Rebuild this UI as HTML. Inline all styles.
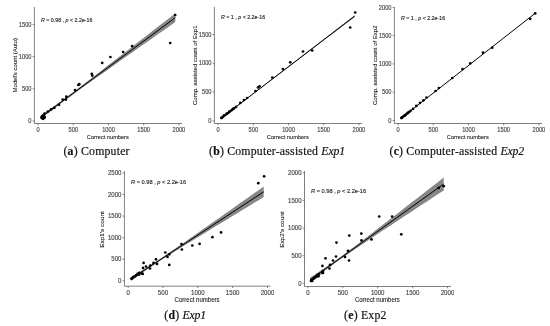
<!DOCTYPE html>
<html><head><meta charset="utf-8"><title>Figure</title>
<style>html,body{margin:0;padding:0;background:#fff}body{width:550px;height:326px;position:relative;overflow:hidden}</style></head>
<body>
<svg width="550" height="326" viewBox="0 0 550 326" style="display:block;position:absolute;left:0;top:0;filter:blur(0.35px)">
<rect width="550" height="326" fill="#fff"/>
<g transform="translate(0,0)">
<polygon fill="#7a7a7a" fill-opacity="0.9" points="41.6,115.07 47.17,111.07 52.74,107.05 58.31,103.0 63.88,98.91 69.45,94.79 75.03,90.63 80.6,86.43 86.17,82.2 91.74,77.95 97.31,73.69 102.88,69.41 108.45,65.11 114.02,60.82 119.59,56.51 125.16,52.2 130.73,47.89 136.3,43.57 141.88,39.25 147.45,34.93 153.02,30.61 158.59,26.28 164.16,21.96 169.73,17.63 175.3,13.3 175.3,22.1 169.73,26.01 164.16,29.93 158.59,33.84 153.02,37.76 147.45,41.68 141.88,45.6 136.3,49.52 130.73,53.45 125.16,57.37 119.59,61.31 114.02,65.24 108.45,69.19 102.88,73.14 97.31,77.1 91.74,81.07 86.17,85.07 80.6,89.08 75.03,93.12 69.45,97.2 63.88,101.32 58.31,105.47 52.74,109.66 47.17,113.88 41.6,118.13"/>
<line x1="41.6" y1="116.6" x2="175.3" y2="17.7" stroke="#000" stroke-width="1.0"/>
<g fill="#000"><circle cx="42.0" cy="116.4" r="1.35"/><circle cx="43.2" cy="118.0" r="1.35"/><circle cx="44.0" cy="116.4" r="1.35"/><circle cx="42.0" cy="118.2" r="1.35"/><circle cx="44.4" cy="117.8" r="1.35"/><circle cx="42.8" cy="115.6" r="1.35"/><circle cx="43.1" cy="117.0" r="1.35"/><circle cx="41.6" cy="117.3" r="1.35"/><circle cx="44.7" cy="117.0" r="1.35"/><circle cx="43.2" cy="118.8" r="1.35"/><circle cx="44.6" cy="113.6" r="1.35"/><circle cx="47.9" cy="111.6" r="1.35"/><circle cx="51.1" cy="109.4" r="1.35"/><circle cx="54.3" cy="107.9" r="1.35"/><circle cx="59" cy="104.8" r="1.35"/><circle cx="62.7" cy="99.6" r="1.35"/><circle cx="65.9" cy="99.6" r="1.35"/><circle cx="66.3" cy="96.7" r="1.35"/><circle cx="75" cy="90" r="1.35"/><circle cx="78.3" cy="85" r="1.35"/><circle cx="79.3" cy="84.2" r="1.35"/><circle cx="91.8" cy="73.8" r="1.35"/><circle cx="92.3" cy="75.6" r="1.35"/><circle cx="102.2" cy="62.9" r="1.35"/><circle cx="110.4" cy="57" r="1.35"/><circle cx="123.1" cy="52" r="1.35"/><circle cx="132.2" cy="46.2" r="1.35"/><circle cx="170.2" cy="43" r="1.35"/><circle cx="175.2" cy="15" r="1.35"/></g>
<path d="M34.4 7V123.5H182" fill="none" stroke="#555" stroke-width="0.75"/>
<path d="M38.1 123.5v1.8M73.3 123.5v1.8M108.5 123.5v1.8M143.7 123.5v1.8M178.9 123.5v1.8M34.4 120.9h-1.8M34.4 88.8h-1.8M34.4 56.6h-1.8M34.4 24.5h-1.8" stroke="#555" stroke-width="0.7" fill="none"/>
<g font-family="Liberation Sans, Arial, sans-serif">
<text transform="translate(38.1 131.9) scale(1 1.1)" text-anchor="middle" font-size="5.7" fill="#444" stroke="#444" stroke-width="0.13">0</text>
<text transform="translate(73.3 131.9) scale(1 1.1)" text-anchor="middle" font-size="5.7" fill="#444" stroke="#444" stroke-width="0.13">500</text>
<text transform="translate(108.5 131.9) scale(1 1.1)" text-anchor="middle" font-size="5.7" fill="#444" stroke="#444" stroke-width="0.13">1000</text>
<text transform="translate(143.7 131.9) scale(1 1.1)" text-anchor="middle" font-size="5.7" fill="#444" stroke="#444" stroke-width="0.13">1500</text>
<text transform="translate(178.9 131.9) scale(1 1.1)" text-anchor="middle" font-size="5.7" fill="#444" stroke="#444" stroke-width="0.13">2000</text>
<text transform="translate(31.5 123.0) scale(1 1.1)" text-anchor="end" font-size="5.7" fill="#444" stroke="#444" stroke-width="0.13">0</text>
<text transform="translate(31.5 90.9) scale(1 1.1)" text-anchor="end" font-size="5.7" fill="#444" stroke="#444" stroke-width="0.13">500</text>
<text transform="translate(31.5 58.7) scale(1 1.1)" text-anchor="end" font-size="5.7" fill="#444" stroke="#444" stroke-width="0.13">1000</text>
<text transform="translate(31.5 26.6) scale(1 1.1)" text-anchor="end" font-size="5.7" fill="#444" stroke="#444" stroke-width="0.13">1500</text>
<text transform="translate(107.8 139.3) scale(1 1.1)" text-anchor="middle" font-size="5.65" fill="#222" stroke="#222" stroke-width="0.1">Correct numbers</text>
<text transform="translate(16.7 65.25) rotate(-90) scale(1.06 1)" text-anchor="middle" font-size="5.65" fill="#222" stroke="#222" stroke-width="0.1">Model's count (Auto)</text>
<text transform="translate(41 21.6) scale(1 1.1)" text-anchor="start" font-size="5.3" fill="#222" stroke="#222" stroke-width="0.12"><tspan font-style="italic">R</tspan> = 0.98 , <tspan font-style="italic">p</tspan> &lt; 2.2e-16</text>
</g>
</g>
<g transform="translate(180,0)">
<polygon fill="#7a7a7a" fill-opacity="0.9" points="41.0,117.9 46.57,113.66 52.14,109.42 57.71,105.17 63.28,100.92 68.85,96.66 74.42,92.39 80.0,88.13 85.57,83.85 91.14,79.58 96.71,75.3 102.28,71.01 107.85,66.73 113.42,62.44 118.99,58.15 124.56,53.86 130.13,49.57 135.7,45.27 141.27,40.98 146.85,36.68 152.42,32.39 157.99,28.09 163.56,23.79 169.13,19.5 174.7,15.2 174.7,17.0 169.13,21.22 163.56,25.44 157.99,29.66 152.42,33.88 146.85,38.1 141.27,42.32 135.7,46.54 130.13,50.77 124.56,54.99 118.99,59.22 113.42,63.44 107.85,67.67 102.28,71.9 96.71,76.14 91.14,80.37 85.57,84.61 80.0,88.86 74.42,93.11 68.85,97.36 63.28,101.62 57.71,105.88 52.14,110.15 46.57,114.42 41.0,118.7"/>
<line x1="41" y1="118.3" x2="174.7" y2="16.1" stroke="#000" stroke-width="1.0"/>
<g fill="#000"><circle cx="41.5" cy="117.9" r="1.35"/><circle cx="43" cy="116.8" r="1.35"/><circle cx="44.5" cy="115.6" r="1.35"/><circle cx="46" cy="114.5" r="1.35"/><circle cx="47.5" cy="113.3" r="1.35"/><circle cx="49" cy="112.2" r="1.35"/><circle cx="50.5" cy="111.0" r="1.35"/><circle cx="52" cy="109.9" r="1.35"/><circle cx="54" cy="108.4" r="1.35"/><circle cx="41.6" cy="117.9" r="1.35"/><circle cx="44" cy="115.5" r="1.35"/><circle cx="47" cy="113.5" r="1.35"/><circle cx="49.4" cy="111.5" r="1.35"/><circle cx="53" cy="108.9" r="1.35"/><circle cx="56" cy="106.9" r="1.35"/><circle cx="60.3" cy="102.9" r="1.35"/><circle cx="64" cy="100" r="1.35"/><circle cx="67" cy="98" r="1.35"/><circle cx="75.5" cy="91" r="1.35"/><circle cx="78" cy="87.5" r="1.35"/><circle cx="79.5" cy="86.3" r="1.35"/><circle cx="92.3" cy="77.6" r="1.35"/><circle cx="102.9" cy="69.0" r="1.35"/><circle cx="110.3" cy="62.3" r="1.35"/><circle cx="123" cy="51.5" r="1.35"/><circle cx="132.2" cy="50.5" r="1.35"/><circle cx="170.2" cy="27.5" r="1.35"/><circle cx="175.2" cy="12.5" r="1.35"/></g>
<path d="M34.4 7V123.5H182" fill="none" stroke="#555" stroke-width="0.75"/>
<path d="M38.1 123.5v1.8M73.3 123.5v1.8M108.5 123.5v1.8M143.7 123.5v1.8M178.9 123.5v1.8M34.4 120.9h-1.8M34.4 92.1h-1.8M34.4 63.3h-1.8M34.4 34.5h-1.8" stroke="#555" stroke-width="0.7" fill="none"/>
<g font-family="Liberation Sans, Arial, sans-serif">
<text transform="translate(38.1 131.9) scale(1 1.1)" text-anchor="middle" font-size="5.7" fill="#444" stroke="#444" stroke-width="0.13">0</text>
<text transform="translate(73.3 131.9) scale(1 1.1)" text-anchor="middle" font-size="5.7" fill="#444" stroke="#444" stroke-width="0.13">500</text>
<text transform="translate(108.5 131.9) scale(1 1.1)" text-anchor="middle" font-size="5.7" fill="#444" stroke="#444" stroke-width="0.13">1000</text>
<text transform="translate(143.7 131.9) scale(1 1.1)" text-anchor="middle" font-size="5.7" fill="#444" stroke="#444" stroke-width="0.13">1500</text>
<text transform="translate(178.9 131.9) scale(1 1.1)" text-anchor="middle" font-size="5.7" fill="#444" stroke="#444" stroke-width="0.13">2000</text>
<text transform="translate(31.5 123.0) scale(1 1.1)" text-anchor="end" font-size="5.7" fill="#444" stroke="#444" stroke-width="0.13">0</text>
<text transform="translate(31.5 94.2) scale(1 1.1)" text-anchor="end" font-size="5.7" fill="#444" stroke="#444" stroke-width="0.13">500</text>
<text transform="translate(31.5 65.4) scale(1 1.1)" text-anchor="end" font-size="5.7" fill="#444" stroke="#444" stroke-width="0.13">1000</text>
<text transform="translate(31.5 36.6) scale(1 1.1)" text-anchor="end" font-size="5.7" fill="#444" stroke="#444" stroke-width="0.13">1500</text>
<text transform="translate(107.8 139.3) scale(1 1.1)" text-anchor="middle" font-size="5.65" fill="#222" stroke="#222" stroke-width="0.1">Correct numbers</text>
<text transform="translate(16.7 65.25) rotate(-90) scale(1.06 1)" text-anchor="middle" font-size="5.65" fill="#222" stroke="#222" stroke-width="0.1">Comp. assisted count of Exp1</text>
<text transform="translate(41 19.2) scale(1 1.1)" text-anchor="start" font-size="5.3" fill="#222" stroke="#222" stroke-width="0.12"><tspan font-style="italic">R</tspan> = 1 , <tspan font-style="italic">p</tspan> &lt; 2.2e-16</text>
</g>
</g>
<g transform="translate(360,0)">
<line x1="41" y1="118.3" x2="175.2" y2="13.3" stroke="#000" stroke-width="1.0"/>
<g fill="#000"><circle cx="41.5" cy="117.9" r="1.35"/><circle cx="42.8" cy="116.9" r="1.35"/><circle cx="44.1" cy="115.9" r="1.35"/><circle cx="45.4" cy="114.9" r="1.35"/><circle cx="46.7" cy="113.8" r="1.35"/><circle cx="48" cy="112.8" r="1.35"/><circle cx="49.3" cy="111.8" r="1.35"/><circle cx="50.6" cy="110.8" r="1.35"/><circle cx="41.6" cy="117.9" r="1.35"/><circle cx="45" cy="115.3" r="1.35"/><circle cx="48" cy="112.9" r="1.35"/><circle cx="53" cy="108.9" r="1.35"/><circle cx="56.3" cy="105.9" r="1.35"/><circle cx="60" cy="102.9" r="1.35"/><circle cx="63.5" cy="100.3" r="1.35"/><circle cx="66.5" cy="97.5" r="1.35"/><circle cx="75.5" cy="91" r="1.35"/><circle cx="78.9" cy="88" r="1.35"/><circle cx="92.3" cy="78" r="1.35"/><circle cx="102.5" cy="69.1" r="1.35"/><circle cx="110.3" cy="63.3" r="1.35"/><circle cx="123" cy="52.6" r="1.35"/><circle cx="132.2" cy="47.7" r="1.35"/><circle cx="170.2" cy="18.9" r="1.35"/><circle cx="175.2" cy="13.3" r="1.35"/></g>
<path d="M34.4 7V123.5H182" fill="none" stroke="#555" stroke-width="0.75"/>
<path d="M38.1 123.5v1.8M73.3 123.5v1.8M108.5 123.5v1.8M143.7 123.5v1.8M178.9 123.5v1.8M34.4 120.5h-1.8M34.4 92.2h-1.8M34.4 63.9h-1.8M34.4 35.6h-1.8M34.4 7.6h-1.8" stroke="#555" stroke-width="0.7" fill="none"/>
<g font-family="Liberation Sans, Arial, sans-serif">
<text transform="translate(38.1 131.9) scale(1 1.1)" text-anchor="middle" font-size="5.7" fill="#444" stroke="#444" stroke-width="0.13">0</text>
<text transform="translate(73.3 131.9) scale(1 1.1)" text-anchor="middle" font-size="5.7" fill="#444" stroke="#444" stroke-width="0.13">500</text>
<text transform="translate(108.5 131.9) scale(1 1.1)" text-anchor="middle" font-size="5.7" fill="#444" stroke="#444" stroke-width="0.13">1000</text>
<text transform="translate(143.7 131.9) scale(1 1.1)" text-anchor="middle" font-size="5.7" fill="#444" stroke="#444" stroke-width="0.13">1500</text>
<text transform="translate(178.9 131.9) scale(1 1.1)" text-anchor="middle" font-size="5.7" fill="#444" stroke="#444" stroke-width="0.13">2000</text>
<text transform="translate(31.5 122.6) scale(1 1.1)" text-anchor="end" font-size="5.7" fill="#444" stroke="#444" stroke-width="0.13">0</text>
<text transform="translate(31.5 94.3) scale(1 1.1)" text-anchor="end" font-size="5.7" fill="#444" stroke="#444" stroke-width="0.13">500</text>
<text transform="translate(31.5 66.0) scale(1 1.1)" text-anchor="end" font-size="5.7" fill="#444" stroke="#444" stroke-width="0.13">1000</text>
<text transform="translate(31.5 37.7) scale(1 1.1)" text-anchor="end" font-size="5.7" fill="#444" stroke="#444" stroke-width="0.13">1500</text>
<text transform="translate(31.5 9.7) scale(1 1.1)" text-anchor="end" font-size="5.7" fill="#444" stroke="#444" stroke-width="0.13">2000</text>
<text transform="translate(107.8 139.3) scale(1 1.1)" text-anchor="middle" font-size="5.65" fill="#222" stroke="#222" stroke-width="0.1">Correct numbers</text>
<text transform="translate(16.7 65.25) rotate(-90) scale(1.06 1)" text-anchor="middle" font-size="5.65" fill="#222" stroke="#222" stroke-width="0.1">Comp. assisted count of Exp2</text>
<text transform="translate(41 20.0) scale(1 1.1)" text-anchor="start" font-size="5.3" fill="#222" stroke="#222" stroke-width="0.12"><tspan font-style="italic">R</tspan> = 1 , <tspan font-style="italic">p</tspan> &lt; 2.2e-16</text>
</g>
</g>
<clipPath id="cld"><rect x="0" y="160" width="184.0" height="150"/></clipPath>
<g transform="translate(90,0)" clip-path="url(#cld)">
<polygon fill="#7a7a7a" fill-opacity="0.9" points="41.0,277.08 46.53,273.66 52.06,270.22 57.59,266.75 63.12,263.23 68.65,259.65 74.17,256.01 79.7,252.29 85.23,248.53 90.76,244.73 96.29,240.89 101.82,237.04 107.35,233.18 112.88,229.31 118.41,225.43 123.94,221.55 129.47,217.66 135.0,213.77 140.52,209.88 146.05,205.99 151.58,202.09 157.11,198.2 162.64,194.3 168.17,190.4 173.7,186.5 173.7,197.1 168.17,200.46 162.64,203.82 157.11,207.18 151.58,210.54 146.05,213.9 140.52,217.27 135.0,220.63 129.47,224.0 123.94,227.37 118.41,230.75 112.88,234.13 107.35,237.52 101.82,240.91 96.29,244.32 90.76,247.75 85.23,251.2 79.7,254.7 74.17,258.24 68.65,261.86 63.12,265.54 57.59,269.28 52.06,273.06 46.53,276.88 41.0,280.72"/>
<line x1="41" y1="278.9" x2="173.7" y2="191.8" stroke="#000" stroke-width="1.0"/>
<g fill="#000"><circle cx="41.6" cy="278.5" r="1.35"/><circle cx="43" cy="277.5" r="1.35"/><circle cx="45" cy="276.3" r="1.35"/><circle cx="47.6" cy="273.9" r="1.35"/><circle cx="49.4" cy="272.9" r="1.35"/><circle cx="52" cy="273.5" r="1.35"/><circle cx="53" cy="267.9" r="1.35"/><circle cx="53.6" cy="262.9" r="1.35"/><circle cx="56" cy="266.5" r="1.35"/><circle cx="60" cy="268.5" r="1.35"/><circle cx="60.3" cy="265.5" r="1.35"/><circle cx="63.5" cy="262.9" r="1.35"/><circle cx="66" cy="259.3" r="1.35"/><circle cx="67" cy="263.9" r="1.35"/><circle cx="75.3" cy="252.5" r="1.35"/><circle cx="77.5" cy="256.9" r="1.35"/><circle cx="79.3" cy="254.3" r="1.35"/><circle cx="79.3" cy="264.9" r="1.35"/><circle cx="91.5" cy="244" r="1.35"/><circle cx="91.9" cy="249.5" r="1.35"/><circle cx="102.3" cy="245.5" r="1.35"/><circle cx="109.6" cy="243.8" r="1.35"/><circle cx="122.4" cy="237.2" r="1.35"/><circle cx="131.1" cy="232.4" r="1.35"/><circle cx="41.8" cy="278.9" r="1.35"/><circle cx="43.6" cy="276.8" r="1.35"/><circle cx="48.4" cy="273.9" r="1.35"/><circle cx="49.2" cy="274.6" r="1.35"/><circle cx="52.7" cy="273.9" r="1.35"/><circle cx="46.3" cy="275.2" r="1.35"/><circle cx="168.3" cy="183.2" r="1.35"/><circle cx="174.1" cy="176.3" r="1.35"/></g>
<path d="M34.4 171V286.2H180.5" fill="none" stroke="#555" stroke-width="0.75"/>
<path d="M38.1 286.2v1.8M72.95 286.2v1.8M107.8 286.2v1.8M142.65 286.2v1.8M177.5 286.2v1.8M34.4 280.8h-1.8M34.4 259.2h-1.8M34.4 237.7h-1.8M34.4 216.1h-1.8M34.4 194.5h-1.8M34.4 173.2h-1.8" stroke="#555" stroke-width="0.7" fill="none"/>
<g font-family="Liberation Sans, Arial, sans-serif">
<text transform="translate(38.1 294.6) scale(1 1.1)" text-anchor="middle" font-size="6.1" fill="#444" stroke="#444" stroke-width="0.13">0</text>
<text transform="translate(72.95 294.6) scale(1 1.1)" text-anchor="middle" font-size="6.1" fill="#444" stroke="#444" stroke-width="0.13">500</text>
<text transform="translate(107.8 294.6) scale(1 1.1)" text-anchor="middle" font-size="6.1" fill="#444" stroke="#444" stroke-width="0.13">1000</text>
<text transform="translate(142.65 294.6) scale(1 1.1)" text-anchor="middle" font-size="6.1" fill="#444" stroke="#444" stroke-width="0.13">1500</text>
<text transform="translate(177.5 294.6) scale(1 1.1)" text-anchor="middle" font-size="6.1" fill="#444" stroke="#444" stroke-width="0.13">2000</text>
<text transform="translate(31.5 282.9) scale(1 1.1)" text-anchor="end" font-size="6.1" fill="#444" stroke="#444" stroke-width="0.13">0</text>
<text transform="translate(31.5 261.3) scale(1 1.1)" text-anchor="end" font-size="6.1" fill="#444" stroke="#444" stroke-width="0.13">500</text>
<text transform="translate(31.5 239.8) scale(1 1.1)" text-anchor="end" font-size="6.1" fill="#444" stroke="#444" stroke-width="0.13">1000</text>
<text transform="translate(31.5 218.2) scale(1 1.1)" text-anchor="end" font-size="6.1" fill="#444" stroke="#444" stroke-width="0.13">1500</text>
<text transform="translate(31.5 196.6) scale(1 1.1)" text-anchor="end" font-size="6.1" fill="#444" stroke="#444" stroke-width="0.13">2000</text>
<text transform="translate(31.5 175.3) scale(1 1.1)" text-anchor="end" font-size="6.1" fill="#444" stroke="#444" stroke-width="0.13">2500</text>
<text transform="translate(107.05 302.0) scale(1 1.1)" text-anchor="middle" font-size="6.05" fill="#222" stroke="#222" stroke-width="0.1">Correct numbers</text>
<text transform="translate(14.4 229.5) rotate(-90) scale(1.06 1)" text-anchor="middle" font-size="6.05" fill="#222" stroke="#222" stroke-width="0.1">Exp1's count</text>
<text transform="translate(41 184.3) scale(1 1.1)" text-anchor="start" font-size="5.67" fill="#222" stroke="#222" stroke-width="0.12"><tspan font-style="italic">R</tspan> = 0.98 , <tspan font-style="italic">p</tspan> &lt; 2.2e-16</text>
</g>
</g>
<clipPath id="cle"><rect x="0" y="160" width="184.2" height="150"/></clipPath>
<g transform="translate(270,0)" clip-path="url(#cle)">
<polygon fill="#7a7a7a" fill-opacity="0.9" points="40.0,277.85 45.57,274.11 51.14,270.34 56.71,266.54 62.28,262.67 67.85,258.72 73.42,254.68 79.0,250.56 84.57,246.38 90.14,242.16 95.71,237.9 101.28,233.63 106.85,229.35 112.42,225.05 117.99,220.75 123.56,216.45 129.13,212.14 134.7,207.83 140.27,203.51 145.85,199.2 151.42,194.88 156.99,190.56 162.56,186.24 168.13,181.92 173.7,177.6 173.7,190.4 168.13,194.07 162.56,197.74 156.99,201.41 151.42,205.09 145.85,208.76 140.27,212.44 134.7,216.12 129.13,219.8 123.56,223.48 117.99,227.16 112.42,230.86 106.85,234.55 101.28,238.26 95.71,241.98 90.14,245.72 84.57,249.49 79.0,253.3 73.42,257.17 67.85,261.12 62.28,265.16 56.71,269.29 51.14,273.47 45.57,277.7 40.0,281.95"/>
<line x1="40" y1="279.9" x2="173.7" y2="184" stroke="#000" stroke-width="1.0"/>
<g fill="#000"><circle cx="41" cy="280.9" r="1.35"/><circle cx="42" cy="279.5" r="1.35"/><circle cx="44" cy="278.5" r="1.35"/><circle cx="41.5" cy="279.9" r="1.35"/><circle cx="43" cy="278.9" r="1.35"/><circle cx="42.2" cy="281" r="1.35"/><circle cx="44.5" cy="277.6" r="1.35"/><circle cx="48" cy="275.6" r="1.35"/><circle cx="49" cy="274.2" r="1.35"/><circle cx="53" cy="271" r="1.35"/><circle cx="52.5" cy="273" r="1.35"/><circle cx="45.5" cy="277.2" r="1.35"/><circle cx="46.5" cy="276.4" r="1.35"/><circle cx="47.6" cy="274.9" r="1.35"/><circle cx="48.4" cy="276.3" r="1.35"/><circle cx="52.4" cy="271.9" r="1.35"/><circle cx="53" cy="272.9" r="1.35"/><circle cx="52.4" cy="265.9" r="1.35"/><circle cx="55.5" cy="258.3" r="1.35"/><circle cx="60" cy="264.9" r="1.35"/><circle cx="59.5" cy="268.5" r="1.35"/><circle cx="63" cy="260.5" r="1.35"/><circle cx="66" cy="256.5" r="1.35"/><circle cx="66.5" cy="242.6" r="1.35"/><circle cx="75" cy="256.9" r="1.35"/><circle cx="78" cy="250.9" r="1.35"/><circle cx="79" cy="260.5" r="1.35"/><circle cx="79.3" cy="235.6" r="1.35"/><circle cx="91.3" cy="233.6" r="1.35"/><circle cx="91.5" cy="240.4" r="1.35"/><circle cx="101.5" cy="239.4" r="1.35"/><circle cx="109.2" cy="216.5" r="1.35"/><circle cx="122.1" cy="216.5" r="1.35"/><circle cx="131.3" cy="234.3" r="1.35"/><circle cx="168.7" cy="187.9" r="1.35"/><circle cx="173.7" cy="186.2" r="1.35"/></g>
<path d="M34.5 171V286.5H181" fill="none" stroke="#555" stroke-width="0.75"/>
<path d="M37.9 286.5v1.8M72.8 286.5v1.8M107.7 286.5v1.8M142.6 286.5v1.8M177.5 286.5v1.8M34.5 283.4h-1.8M34.5 255.7h-1.8M34.5 228.1h-1.8M34.5 200.4h-1.8M34.5 172.8h-1.8" stroke="#555" stroke-width="0.7" fill="none"/>
<g font-family="Liberation Sans, Arial, sans-serif">
<text transform="translate(37.9 294.9) scale(1 1.1)" text-anchor="middle" font-size="6.1" fill="#444" stroke="#444" stroke-width="0.13">0</text>
<text transform="translate(72.8 294.9) scale(1 1.1)" text-anchor="middle" font-size="6.1" fill="#444" stroke="#444" stroke-width="0.13">500</text>
<text transform="translate(107.7 294.9) scale(1 1.1)" text-anchor="middle" font-size="6.1" fill="#444" stroke="#444" stroke-width="0.13">1000</text>
<text transform="translate(142.6 294.9) scale(1 1.1)" text-anchor="middle" font-size="6.1" fill="#444" stroke="#444" stroke-width="0.13">1500</text>
<text transform="translate(177.5 294.9) scale(1 1.1)" text-anchor="middle" font-size="6.1" fill="#444" stroke="#444" stroke-width="0.13">2000</text>
<text transform="translate(31.6 285.5) scale(1 1.1)" text-anchor="end" font-size="6.1" fill="#444" stroke="#444" stroke-width="0.13">0</text>
<text transform="translate(31.6 257.8) scale(1 1.1)" text-anchor="end" font-size="6.1" fill="#444" stroke="#444" stroke-width="0.13">500</text>
<text transform="translate(31.6 230.2) scale(1 1.1)" text-anchor="end" font-size="6.1" fill="#444" stroke="#444" stroke-width="0.13">1000</text>
<text transform="translate(31.6 202.5) scale(1 1.1)" text-anchor="end" font-size="6.1" fill="#444" stroke="#444" stroke-width="0.13">1500</text>
<text transform="translate(31.6 174.9) scale(1 1.1)" text-anchor="end" font-size="6.1" fill="#444" stroke="#444" stroke-width="0.13">2000</text>
<text transform="translate(107.35 302.3) scale(1 1.1)" text-anchor="middle" font-size="6.05" fill="#222" stroke="#222" stroke-width="0.1">Correct numbers</text>
<text transform="translate(14.4 229.65) rotate(-90) scale(1.06 1)" text-anchor="middle" font-size="6.05" fill="#222" stroke="#222" stroke-width="0.1">Exp2's count</text>
<text transform="translate(41 192.5) scale(1 1.1)" text-anchor="start" font-size="5.67" fill="#222" stroke="#222" stroke-width="0.12"><tspan font-style="italic">R</tspan> = 0.98 , <tspan font-style="italic">p</tspan> &lt; 2.2e-16</text>
</g>
</g>
<g font-family="Liberation Serif, 'Times New Roman', serif" font-size="11.8" fill="#111" stroke="#111" stroke-width="0.18" text-anchor="middle" letter-spacing="0.2">
<text x="96.6" y="155.2">(<tspan font-weight="bold">a</tspan>) Computer</text>
<text x="277.0" y="155.2">(<tspan font-weight="bold">b</tspan>) Computer-assisted <tspan font-style="italic" letter-spacing="-0.15">Exp1</tspan></text>
<text x="456.8" y="155.2">(<tspan font-weight="bold">c</tspan>) Computer-assisted <tspan font-style="italic" letter-spacing="-0.15">Exp2</tspan></text>
<text x="185.2" y="318.9">(<tspan font-weight="bold">d</tspan>) <tspan font-style="italic" letter-spacing="-0.15">Exp1</tspan></text>
<text x="365.4" y="318.9">(<tspan font-weight="bold">e</tspan>) Exp2</text>
</g>
</svg>
</body></html>
